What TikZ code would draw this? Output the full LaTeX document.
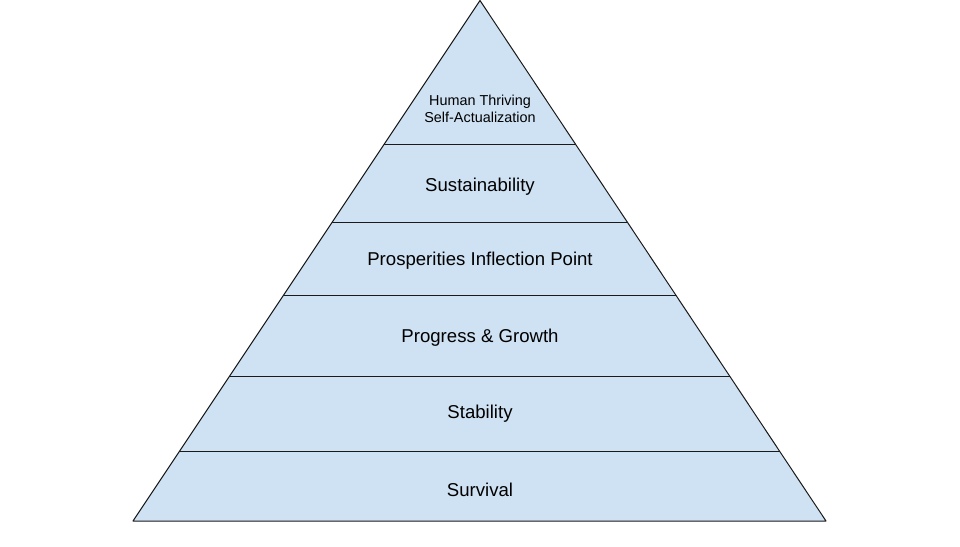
\documentclass[tikz,border=0pt]{standalone}
\usepackage{fontspec}
\setmainfont{Liberation Sans}
\definecolor{tierfill}{HTML}{CFE2F3}
\definecolor{tierline}{HTML}{1A1A1A}
\begin{document}
\begin{tikzpicture}[x=1pt,y=-1pt,
  tierlabel/.style={font=\fontsize{18.6}{22}\selectfont, text=black, align=center, inner sep=0pt},
  toplabel/.style={font=\fontsize{14.4}{17}\selectfont, text=black, align=center, inner sep=0pt},
  sepline/.style={draw=tierline, line width=1pt}]
\useasboundingbox (0,0) rectangle (960,546);
\coordinate (apex) at (480,0.5);
\coordinate (bl) at (133,521);
\coordinate (br) at (826,521);
\fill[tierfill] (apex) -- (bl) -- (br) -- cycle;
\begin{scope}
  \clip (apex) -- (bl) -- (br) -- cycle;
  \foreach \yy in {144.5,222,295,376.5,451} {
    \draw[sepline] (0,\yy) -- (960,\yy);
  }
\end{scope}
\draw[tierline, line width=1pt, line join=round] (apex) -- (bl) -- (br) -- cycle;
\node[toplabel] (t6) at (480,109) {Human Thriving\\Self-Actualization};
\node[tierlabel] (t5) at (480,186.5) {Sustainability};
\node[tierlabel] (t4) at (480,260.5) {Prosperities Inflection Point};
\node[tierlabel] (t3) at (480,337.5) {Progress \& Growth};
\node[tierlabel] (t2) at (480,413.5) {Stability};
\node[tierlabel] (t1) at (480,489.5) {Survival};
\end{tikzpicture}
\end{document}
